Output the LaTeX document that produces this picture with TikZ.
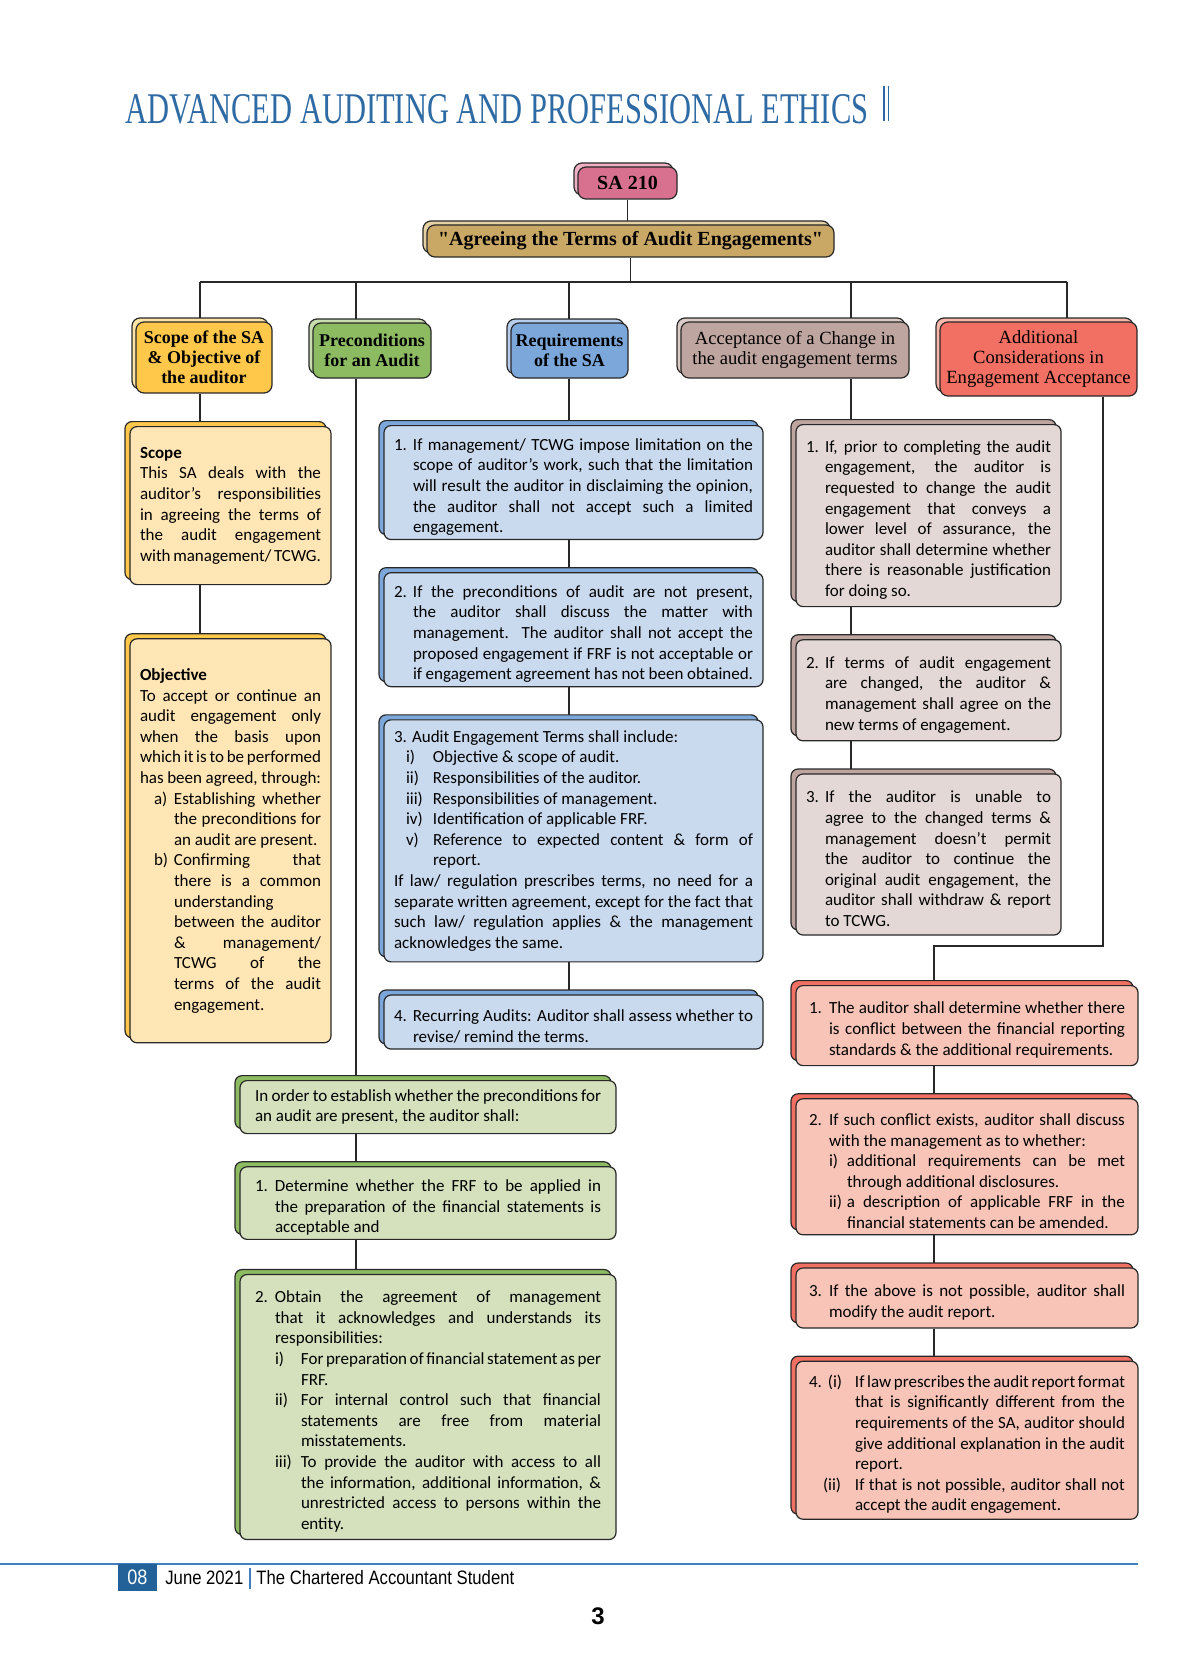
\documentclass[tikz,border=0pt]{standalone}
\usepackage{fontspec}
\setmainfont{Carlito}
\newfontfamily\headfont{Liberation Serif}
\newfontfamily\footfont{Liberation Sans}
\usepackage{xcolor}
\usepackage{graphicx}
\usetikzlibrary{positioning,shadows,backgrounds}
\definecolor{titleblue}{RGB}{46,106,163}
\definecolor{footblue}{RGB}{64,128,190}
\definecolor{pagebox}{RGB}{34,98,152}
\definecolor{linecol}{RGB}{40,40,40}
\definecolor{sapink}{RGB}{216,113,143}
\definecolor{sapinklt}{RGB}{238,176,194}
\definecolor{agrtan}{RGB}{201,167,100}
\definecolor{agrtanlt}{RGB}{228,208,162}
\definecolor{yelhd}{RGB}{255,200,74}
\definecolor{yelhdlt}{RGB}{255,229,165}
\definecolor{yelbx}{RGB}{255,230,180}
\definecolor{grnhd}{RGB}{141,187,98}
\definecolor{grnhdlt}{RGB}{200,222,175}
\definecolor{grnbx}{RGB}{213,224,189}
\definecolor{bluhd}{RGB}{123,167,218}
\definecolor{bluhdlt}{RGB}{183,206,236}
\definecolor{blubx}{RGB}{201,217,238}
\definecolor{brnhd}{RGB}{191,165,160}
\definecolor{brnhdlt}{RGB}{218,203,199}
\definecolor{brnbx}{RGB}{227,216,214}
\definecolor{redhd}{RGB}{242,111,99}
\definecolor{redhdlt}{RGB}{250,182,170}
\definecolor{redbx}{RGB}{248,196,183}
\newcommand\hitem[3]{\par\noindent\hangindent=#2\hangafter=1\hbox to #2{\hspace*{#1}#3\hfil}\ignorespaces}

\begin{document}
\begin{tikzpicture}[
  x=0.5pt, y=-0.5pt, font=\fontsize{8.5}{10.3}\selectfont,
  hdbox/.style 2 args={draw=linecol, line width=0.6pt, rounded corners=4pt, fill=#1,
      copy shadow={shadow xshift=-2pt, shadow yshift=2pt, fill=#2, draw=linecol, line width=0.6pt},
      align=center, inner sep=1pt, font=\headfont\bfseries\fontsize{9}{9.9}\selectfont},
  txtbox/.style 2 args={draw=linecol, line width=0.6pt, rounded corners=3.5pt, fill=#1,
      copy shadow={shadow xshift=-2.5pt, shadow yshift=2.5pt, fill=#2, draw=linecol, line width=0.6pt},
      align=justify, inner xsep=5pt, inner ysep=2pt,
      execute at begin node={\tolerance=9999\emergencystretch=1em\hyphenpenalty=10000\hbadness=10000}},
  conn/.style={draw=linecol, line width=0.7pt}
]
\useasboundingbox (0,0) rectangle (1200,1680);

\node[anchor=south west, inner sep=0, text=titleblue] (title) at (125,125)
  {\headfont\resizebox{371.5pt}{14.5pt}{ADVANCED AUDITING AND PROFESSIONAL ETHICS}};
\draw[titleblue, line width=0.8pt] (884,86) -- (884,121) (888.5,86) -- (888.5,121);

\node[hdbox={sapink}{sapinklt}, minimum width=49.5pt, minimum height=16pt,
  font=\headfont\bfseries\fontsize{10}{11}\selectfont] (sa) at (627.5,183) {SA 210};
\node[hdbox={agrtan}{agrtanlt}, minimum width=203.5pt, minimum height=16pt,
  font=\headfont\bfseries\fontsize{10}{11}\selectfont] (agree) at (630.5,241)
  {"Agreeing the Terms of Audit Engagements"};

\node[hdbox={yelhd}{yelhdlt}, minimum width=68pt, minimum height=35.5pt] (scopehd) at (204,357.5)
  {Scope of the SA\\ \& Objective of\\ the auditor};
\node[hdbox={grnhd}{grnhdlt}, minimum width=59pt, minimum height=27.5pt] (prehd) at (372,350.5)
  {Preconditions\\ for an Audit};
\node[hdbox={bluhd}{bluhdlt}, minimum width=58.5pt, minimum height=27.5pt] (reqhd) at (569.5,350.5)
  {Requirements\\ of the SA};
\node[hdbox={brnhd}{brnhdlt}, minimum width=114pt, minimum height=28pt,
  font=\headfont\fontsize{9.3}{9.9}\selectfont] (acchd) at (795,350)
  {Acceptance of a Change in\\ the audit engagement terms};
\node[hdbox={redhd}{redhdlt}, minimum width=98.5pt, minimum height=37pt,
  font=\headfont\fontsize{9.3}{9.9}\selectfont] (addhd) at (1038.5,359)
  {Additional\\ Considerations in\\ Engagement Acceptance};

\node[txtbox={yelbx}{yelhd}, text width=90.5pt, minimum height=79pt, anchor=north] (scopebx) at (230.5,426)
  {\textbf{Scope}\par This SA deals with the auditor's responsibilities in agreeing the terms of the audit engagement with management/ TCWG.\par};
\node[txtbox={yelbx}{yelhd}, text width=90.5pt, minimum height=202pt, below=26.5pt of scopebx] (objbx)
  {\textbf{Objective}\par To accept or continue an audit engagement only when the basis upon which it is to be performed has been agreed, through:
  \hitem{7pt}{17pt}{a)}Establishing whether the preconditions for an audit are present.
  \hitem{7pt}{17pt}{b)}Confirming that there is a common understanding between the auditor \& management/ TCWG of the terms of the audit engagement.\par};

\node[txtbox={blubx}{bluhd}, text width=179.5pt, minimum height=56.5pt, anchor=north] (blua) at (573.5,425)
  {\hitem{0pt}{9.5pt}{1.}If management/ TCWG impose limitation on the scope of auditor's work, such that the limitation will result the auditor in disclaiming the opinion, the auditor shall not accept such a limited engagement.\par};
\node[txtbox={blubx}{bluhd}, text width=179.5pt, minimum height=55.5pt, below=16pt of blua] (blub)
  {\hitem{0pt}{9.5pt}{2.}If the preconditions of audit are not present, the auditor shall discuss the matter with management. The auditor shall not accept the proposed engagement if FRF is not acceptable or if engagement agreement has not been obtained.\par};
\node[txtbox={blubx}{bluhd}, text width=179.5pt, minimum height=121pt, below=16pt of blub] (bluc)
  {3. Audit Engagement Terms shall include:
  \hitem{6pt}{19.5pt}{i)}Objective \& scope of audit.
  \hitem{6pt}{19.5pt}{ii)}Responsibilities of the auditor.
  \hitem{6pt}{19.5pt}{iii)}Responsibilities of management.
  \hitem{6pt}{19.5pt}{iv)}Identification of applicable FRF.
  \hitem{6pt}{19.5pt}{v)}Reference to expected content \& form of report.
  \par If law/ regulation prescribes terms, no need for a separate written agreement, except for the fact that such law/ regulation applies \& the management acknowledges the same.\par};
\node[txtbox={blubx}{bluhd}, text width=179.5pt, minimum height=27pt, below=16pt of bluc] (blud)
  {\hitem{0pt}{9.5pt}{4.}Recurring Audits: Auditor shall assess whether to revise/ remind the terms.\par};

\node[txtbox={brnbx}{brnhd}, text width=122.5pt, minimum height=91pt, anchor=north] (brna) at (928.5,424)
  {\hitem{0pt}{9.5pt}{1.}If, prior to completing the audit engagement, the auditor is requested to change the audit engagement that conveys a lower level of assurance, the auditor shall determine whether there is reasonable justification for doing so.\par};
\node[txtbox={brnbx}{brnhd}, text width=122.5pt, minimum height=50.5pt, below=16pt of brna] (brnb)
  {\hitem{0pt}{9.5pt}{2.}If terms of audit engagement are changed, the auditor \& management shall agree on the new terms of engagement.\par};
\node[txtbox={brnbx}{brnhd}, text width=122.5pt, minimum height=80.5pt, below=16pt of brnb] (brnc)
  {\hitem{0pt}{9.5pt}{3.}If the auditor is unable to agree to the changed terms \& management doesn't permit the auditor to continue the original audit engagement, the auditor shall withdraw \& report to TCWG.\par};

\node[txtbox={grnbx}{grnhd}, text width=173pt, inner xsep=7.5pt, minimum height=26.5pt, anchor=north] (grna) at (428,1080)
  {In order to establish whether the preconditions for an audit are present, the auditor shall:};
\node[txtbox={grnbx}{grnhd}, text width=173pt, inner xsep=7.5pt, minimum height=35pt, below=16pt of grna] (grnb)
  {\hitem{0pt}{10pt}{1.}Determine whether the FRF to be applied in the preparation of the financial statements is acceptable and\par};
\node[txtbox={grnbx}{grnhd}, text width=173pt, inner xsep=7.5pt, minimum height=132.5pt, below=17pt of grnb] (grnc)
  {\hitem{0pt}{10pt}{2.}Obtain the agreement of management that it acknowledges and understands its responsibilities:
  \hitem{10pt}{23pt}{i)}For preparation of financial statement as per FRF.
  \hitem{10pt}{23pt}{ii)}For internal control such that financial statements are free from material misstatements.
  \hitem{10pt}{23pt}{iii)}To provide the auditor with access to all the information, additional information, \& unrestricted access to persons within the entity.\par};

\node[txtbox={redbx}{redhd}, text width=158pt, inner xsep=6.5pt, minimum height=40pt, anchor=north] (reda) at (967,985)
  {\hitem{0pt}{10pt}{1.}The auditor shall determine whether there is conflict between the financial reporting standards \& the additional requirements.\par};
\node[txtbox={redbx}{redhd}, text width=158pt, inner xsep=6.5pt, minimum height=68pt, below=16pt of reda] (redb)
  {\hitem{0pt}{10pt}{2.}If such conflict exists, auditor shall discuss with the management as to whether:
  \hitem{10pt}{19pt}{i)}additional requirements can be met through additional disclosures.
  \hitem{10pt}{19pt}{ii)}a description of applicable FRF in the financial statements can be amended.\par};
\node[txtbox={redbx}{redhd}, text width=158pt, inner xsep=6.5pt, minimum height=30pt, below=16pt of redb] (redc)
  {\hitem{0pt}{10pt}{3.}If the above is not possible, auditor shall modify the audit report.\par};
\node[txtbox={redbx}{redhd}, text width=158pt, inner xsep=6.5pt, minimum height=79pt, below=16pt of redc] (redd)
  {\hitem{0pt}{23pt}{4.\hspace{3pt}(i)}If law prescribes the audit report format that is significantly different from the requirements of the SA, auditor should give additional explanation in the audit report.
  \hitem{7pt}{23pt}{(ii)}If that is not possible, auditor shall not accept the audit engagement.\par};

\coordinate (jscope) at (200,282);
\coordinate (jpre) at (356,282);
\coordinate (jreq) at (569,282);
\coordinate (jacc) at (851,282);
\coordinate (jadd) at (1067,282);
\coordinate (addx) at (1103,946);
\coordinate (turn) at (934,946);

\begin{scope}[on background layer]
\fill[white] (0,0) rectangle (1200,1680);
\draw[conn] (sa) -- (sa |- agree.north);
\draw[conn] (agree) -- (agree |- jreq);
\draw[conn] (jscope) -- (jadd);
\foreach \j/\h in {jscope/scopehd, jpre/prehd, jreq/reqhd, jacc/acchd, jadd/addhd}
  \draw[conn] (\j) -- (\j |- \h.north);
\draw[conn] (scopehd.south -| jscope) -- (scopebx.north -| jscope);
\draw[conn] (scopebx.south -| jscope) -- (objbx.north -| jscope);
\draw[conn] (prehd.south -| jpre) -- (grna.north -| jpre);
\draw[conn] (grna.south -| jpre) -- (grnb.north -| jpre);
\draw[conn] (grnb.south -| jpre) -- (grnc.north -| jpre);
\draw[conn] (reqhd.south -| jreq) -- (blua.north -| jreq);
\draw[conn] (blua.south -| jreq) -- (blub.north -| jreq);
\draw[conn] (blub.south -| jreq) -- (bluc.north -| jreq);
\draw[conn] (bluc.south -| jreq) -- (blud.north -| jreq);
\draw[conn] (acchd.south -| jacc) -- (brna.north -| jacc);
\draw[conn] (brna.south -| jacc) -- (brnb.north -| jacc);
\draw[conn] (brnb.south -| jacc) -- (brnc.north -| jacc);
\draw[conn] (addhd.south -| addx) -- (addx) -- (turn) -- (reda.north -| turn);
\draw[conn] (reda.south -| turn) -- (redb.north -| turn);
\draw[conn] (redb.south -| turn) -- (redc.north -| turn);
\draw[conn] (redc.south -| turn) -- (redd.north -| turn);
\end{scope}

\draw[footblue, line width=1pt] (0,1564) -- (1138,1564);
\node[fill=pagebox, text=white, minimum width=19.5pt, minimum height=13.5pt, inner sep=0,
  font=\footfont\fontsize{10.5}{12}\selectfont] (pgno) at (137.5,1577.5) {\scalebox{0.86}[1]{08}};
\node[anchor=west, inner sep=0, font=\footfont\fontsize{9.7}{11}\selectfont] (issue) at (165,1578)
  {\scalebox{0.86}[1]{June 2021}};
\draw[footblue, line width=1.2pt] (250,1568) -- (250,1589);
\node[anchor=west, inner sep=0, font=\footfont\fontsize{9.7}{11}\selectfont] (mag) at (256,1578)
  {\scalebox{0.86}[1]{The Chartered Accountant Student}};
\node[font=\footfont\bfseries\fontsize{12}{14}\selectfont] (pnum) at (598,1616) {3};
\end{tikzpicture}
\end{document}
